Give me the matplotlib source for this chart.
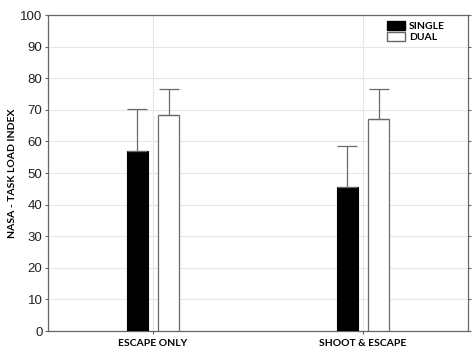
import numpy as np
import matplotlib.pyplot as plt
from matplotlib.patches import Patch

categories = ["ESCAPE ONLY", "SHOOT & ESCAPE"]
single = [57.0, 45.5]
single_err = [13.4, 13.0]
dual = [68.3, 67.0]
dual_err = [8.2, 9.7]

fig = plt.figure(figsize=(4.74, 3.55), dpi=100)
ax = fig.add_axes([48/474, 1 - 331/355, 420/474, 316/355])

x = np.arange(len(categories))
w = 0.1
off = 0.074
ekw = dict(ecolor='#6a6a6a', elinewidth=0.9, capsize=7.5, capthick=0.9)
ax.bar(x - off, single, w, color='black', edgecolor='black', lw=0.8,
       yerr=[np.zeros(2), single_err], error_kw=ekw, zorder=3)
ax.bar(x + off, dual, w, color='white', edgecolor='#6a6a6a', lw=0.9,
       yerr=[np.zeros(2), dual_err], error_kw=ekw, zorder=3)

ax.set_xlim(-0.5, 1.5)
ax.set_ylim(0, 100)
ax.set_yticks(range(0, 101, 10))
ax.set_xticks(x)
ax.set_xticklabels(categories, fontweight='bold', fontsize=7.5, family='Lato')
for lab in ax.get_yticklabels():
    lab.set_family('Liberation Sans')
ax.tick_params(axis='y', labelsize=9.5, labelcolor='#222222', color='#666666', length=2, pad=2, direction='out')
ax.tick_params(axis='y', which='both', right=True)
ax.tick_params(axis='x', length=2, pad=4, color='#666666')
ax.grid(True, color='#e6e6e6', lw=0.8, zorder=0)
for s in ax.spines.values():
    s.set_color('#666666')
    s.set_linewidth(0.9)
ax.set_ylabel("NASA - TASK LOAD INDEX", fontweight='bold', fontsize=7.5, family='Lato')
ax.yaxis.set_label_coords(-0.074, 0.5)

handles = [Patch(facecolor='black', edgecolor='black', label='SINGLE'),
           Patch(facecolor='white', edgecolor='#666666', label='DUAL')]
ax.legend(handles=handles, loc='upper right', frameon=False, prop=dict(family='Lato', weight='bold', size=7.5),
          handlelength=1.7, handleheight=0.9, labelspacing=0.1, handletextpad=0.4, borderaxespad=0.2,
          bbox_to_anchor=(0.96, 1.0))

fig.savefig("out.png", dpi=100)
